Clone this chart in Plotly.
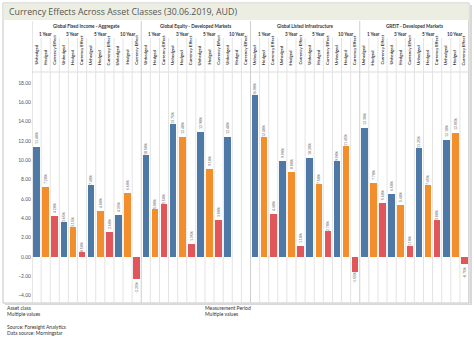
import plotly.graph_objects as go

# ---- data -------------------------------------------------------------
asset_classes = [
    "Global Fixed Income - Aggregate",
    "Global Equity - Developed Markets",
    "Global Listed Infrastructure",
    "GREIT - Developed Markets",
]
periods = ["1 Year", "3 Year", "5 Year", "10 Year"]
measures = ["Unhedged", "Hedged", "Currency Effect"]

# returns in %, ordered asset class x period
unhedged = [11.40, 3.65, 7.40, 4.35,
            10.50, 13.75, 12.90, 12.40,
            16.80, 9.90, 10.20, 9.90,
            13.30, 6.50, 11.25, 12.10]
hedged = [7.20, 3.15, 4.80, 6.60,
          5.00, 12.40, 9.10, None,
          12.40, 8.80, 7.50, 11.45,
          7.70, 5.40, 7.45, 12.85]
currency_effect = [4.20, 0.50, 2.60, -2.25,
                   5.50, 1.35, 3.80, None,
                   4.40, 1.10, 2.70, -1.55,
                   5.60, 1.10, 3.80, -0.75]

y_ticks = [-4, -2, 0, 2, 4, 6, 8, 10, 12, 14, 16, 18]

series = [unhedged, hedged, currency_effect]
colors = ["#4e79a7", "#f28e2b", "#e15759"]

# ---- geometry ---------------------------------------------------------
W, H = 474, 341
ML, MR, MT, MB = 32, 5, 72, 38
PW, PH = W - ML - MR, H - MT - MB
n_meas = len(measures)
n_per = len(periods)
n_cols = len(asset_classes) * n_per * n_meas


def px(x):
    return (x - ML) / PW


def py(y):
    return (H - MB - y) / PH


fig = go.Figure()

for m, (name, vals, col) in enumerate(zip(measures, series, colors)):
    xs = [g * n_meas + m for g in range(len(vals))]
    fig.add_trace(go.Bar(
        x=xs, y=vals, name=name, width=0.72,
        marker=dict(color=col, line=dict(width=0)),
        texttemplate="%{y:.2f}%", textposition="outside",
        textangle=-90, constraintext="none", cliponaxis=False,
        textfont=dict(size=3.5, color="#555555", family="Lato"),
        hovertemplate=name + ": %{y:.2f}%<extra></extra>",
    ))

shapes = []
annotations = []

# outer frame and title band
shapes.append(dict(type="rect", xref="paper", yref="paper",
                   x0=px(3), x1=px(469), y0=py(303), y1=py(3),
                   line=dict(color="#c4c4c4", width=1), fillcolor="rgba(0,0,0,0)",
                   layer="below"))
shapes.append(dict(type="rect", xref="paper", yref="paper",
                   x0=px(470), x1=px(472), y0=py(305), y1=py(5),
                   line=dict(width=0), fillcolor="#d8d8d8", layer="below"))
shapes.append(dict(type="rect", xref="paper", yref="paper",
                   x0=px(5), x1=px(472), y0=py(305), y1=py(303.5),
                   line=dict(width=0), fillcolor="#d8d8d8", layer="below"))
shapes.append(dict(type="rect", xref="paper", yref="paper",
                   x0=px(3.5), x1=px(468.5), y0=py(20), y1=py(3.5),
                   line=dict(width=0), fillcolor="#eceee2", layer="below"))

# header divider
shapes.append(dict(type="line", xref="paper", yref="paper",
                   x0=px(32), x1=px(469), y0=py(72), y1=py(72),
                   line=dict(color="#dcdcdc", width=1), layer="below"))

# column lines
for i in range(n_cols + 1):
    top = py(21) if i % (n_per * n_meas) == 0 else py(38)
    colr = "#cfcfcf" if i % (n_per * n_meas) == 0 else "#e3e3e3"
    shapes.append(dict(type="line", xref="x", yref="paper",
                       x0=i - 0.5, x1=i - 0.5, y0=0, y1=top,
                       line=dict(color=colr, width=1), layer="below"))

hdr_font = dict(family="Lato", size=4.6, color="#333333")

for a, ac in enumerate(asset_classes):
    base = a * n_per * n_meas
    annotations.append(dict(text="<b>%s</b>" % ac, x=base + (n_per * n_meas - 1) / 2,
                            xref="x", y=py(25.5), yref="paper", showarrow=False,
                            xanchor="center", yanchor="middle", font=hdr_font))
    for p, per in enumerate(periods):
        pb = base + p * n_meas
        annotations.append(dict(text="<b>%s</b>" % per, x=pb + 1, xref="x",
                                y=py(34), yref="paper", showarrow=False,
                                xanchor="center", yanchor="middle", font=hdr_font))
        for m, ms in enumerate(measures):
            annotations.append(dict(text="<b>%s</b>" % ms, x=pb + m, xref="x",
                                    y=py(67), yref="paper", showarrow=False,
                                    textangle=-90, xanchor="center", yanchor="bottom",
                                    font=dict(family="Lato", size=4.3, color="#333333")))

annotations.append(dict(text="Currency Effects Across Asset Classes (30.06.2019, AUD)",
                        x=px(7), y=py(12), xref="paper", yref="paper", showarrow=False,
                        xanchor="left", yanchor="middle",
                        font=dict(family="Open Sans", size=8.8, color="#555555")))

foot_font = dict(family="Lato", size=5, color="#333333")
for txt, x, y in [("Asset class", 5, 308), ("Multiple values", 5, 314),
                  ("Measurement Period", 203, 308), ("Multiple values", 203, 314),
                  ("Source: Foresight Analytics", 5, 327),
                  ("Data source: Morningstar", 5, 333)]:
    annotations.append(dict(text=txt, x=px(x), y=py(y), xref="paper", yref="paper",
                            showarrow=False, xanchor="left", yanchor="middle",
                            font=foot_font))

fig.update_layout(
    width=W, height=H,
    margin=dict(l=ML, r=MR, t=MT, b=MB, pad=0),
    paper_bgcolor="white", plot_bgcolor="white",
    showlegend=False, barmode="group", bargap=0,
    shapes=shapes, annotations=annotations,
    xaxis=dict(range=[-0.5, n_cols - 0.5], showticklabels=False, showgrid=False,
               zeroline=False, showline=False, fixedrange=True),
    yaxis=dict(range=[-4.76, 19.13], tickvals=y_ticks, tickformat=".2f",
               ticksuffix="%", showgrid=False, zeroline=False, showline=False,
               ticks="", tickfont=dict(family="Lato", size=5, color="#555555"),
               fixedrange=True),
)

fig.write_html("out.html")
